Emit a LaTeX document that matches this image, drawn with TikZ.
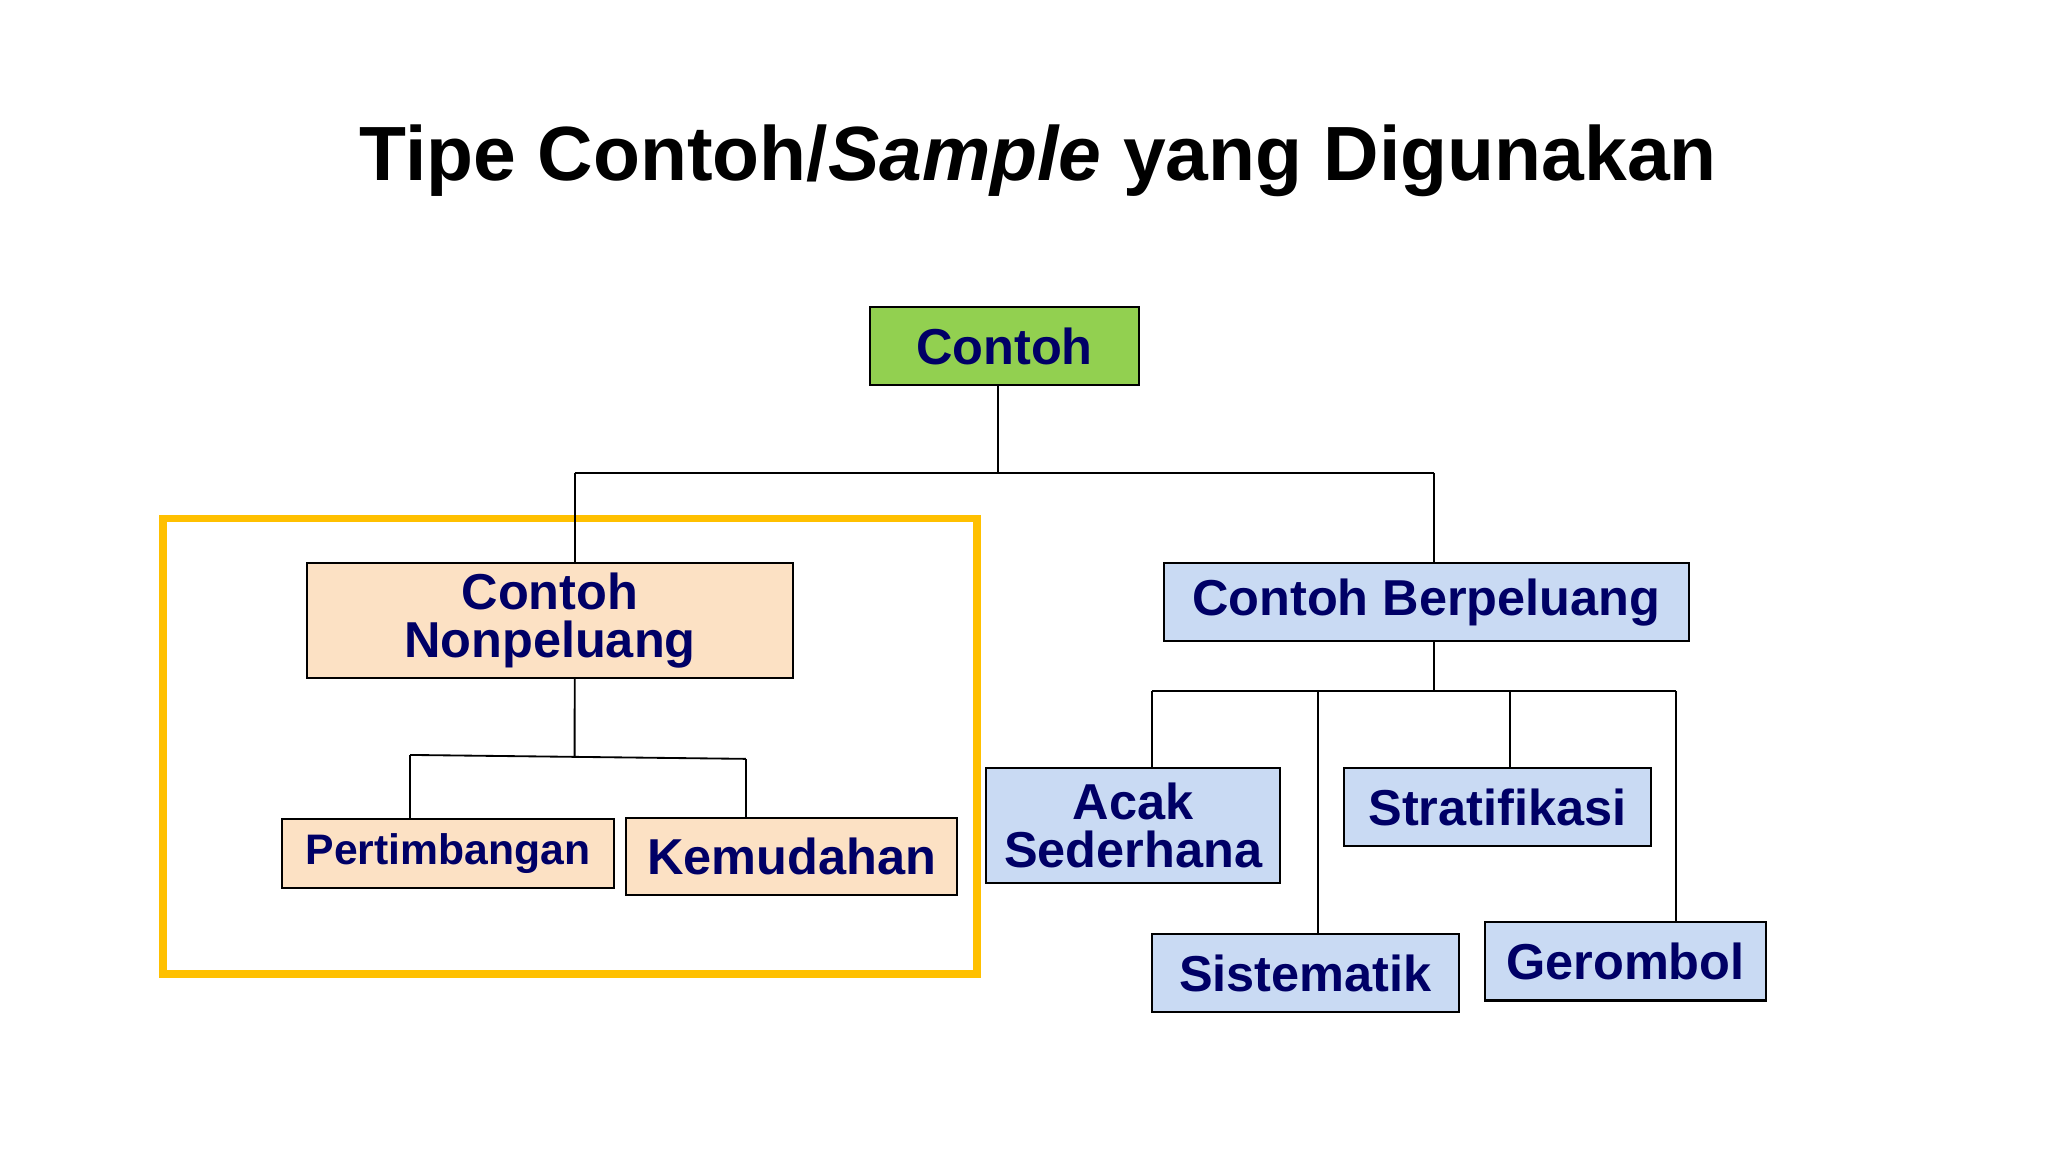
\documentclass[tikz,border=0pt]{standalone}
\usepackage{fontspec}
\setmainfont{Liberation Sans}
\usetikzlibrary{calc}
\definecolor{ChartGreen}{HTML}{92D050}
\definecolor{ChartBlue}{HTML}{C9DAF3}
\definecolor{ChartPeach}{HTML}{FCE1C4}
\definecolor{ChartNavy}{HTML}{000066}
\definecolor{FrameGold}{HTML}{FFC000}
\newcommand{\px}{0.02cm}

\begin{document}
\begin{tikzpicture}[x=0.02cm, y=-0.02cm,
  nbox/.style={draw, line width=0.9pt, inner sep=0pt, align=center, text=ChartNavy,
    font=\fontsize{22}{21}\selectfont\bfseries},
  link/.style={line width=0.8pt}]
  \fill[white] (0,0) rectangle (1568,882);
  \useasboundingbox (0,0) rectangle (1568,882);
  % title
  \node[anchor=base, font=\fontsize{33.5}{40}\selectfont\bfseries] (title) at (795,138)
    {Tipe Contoh/\textit{Sample} yang Digunakan};
  % highlight frame round the non-probability branch
  \draw[FrameGold, line width=3.4pt, fill=white] (125,397) rectangle (748,746);
  % boxes
  \node[nbox, fill=ChartGreen, minimum width=206*\px, minimum height=60*\px] (contoh) at (769,265) {Contoh};
  \node[nbox, fill=ChartPeach, minimum width=372*\px, minimum height=88*\px] (nonpel) at (421,475) {Contoh\\Nonpeluang};
  \node[nbox, fill=ChartPeach, minimum width=254*\px, minimum height=53*\px,
    font=\fontsize{18.6}{20}\selectfont\bfseries] (pertim) at (343,653.5) {Pertimbangan};
  \node[nbox, fill=ChartPeach, minimum width=254*\px, minimum height=59*\px] (kemud) at (606,655.5) {Kemudahan};
  \node[nbox, fill=ChartBlue, minimum width=402*\px, minimum height=60*\px] (berpel) at (1092,461) {Contoh Berpeluang};
  \node[nbox, fill=ChartBlue, minimum width=225*\px, minimum height=88*\px] (acak) at (867.5,632) {Acak\\Sederhana};
  \node[nbox, fill=ChartBlue, minimum width=235*\px, minimum height=60*\px] (strat) at (1146.5,618) {Stratifikasi};
  \node[nbox, fill=ChartBlue, minimum width=235*\px, minimum height=60*\px] (sistem) at (999.5,745) {Sistematik};
  \node[nbox, fill=ChartBlue, minimum width=215*\px, minimum height=60*\px] (gerom) at (1244.5,736) {Gerombol};
  % branch points
  \coordinate (npdrop) at (440,362);
  \coordinate (bpdrop) at (1098,362);
  \coordinate (ptdrop) at (314,578);
  \coordinate (kmdrop) at (571,581);
  \coordinate (acdrop) at (882,529);
  \coordinate (sidrop) at (1009,529);
  \coordinate (stdrop) at (1156,529);
  \coordinate (gedrop) at (1283,529);
  % top level
  \draw[link] ([xshift=-5*\px]contoh.south) -- ([xshift=-5*\px]contoh.south |- npdrop);
  \draw[link] (npdrop) -- (bpdrop);
  \draw[link] (npdrop) -- (npdrop |- nonpel.north);
  \draw[link] (bpdrop) -- (bpdrop |- berpel.north);
  % non-probability
  \draw[link] (npdrop |- nonpel.south) -- ($(ptdrop)!0.49!(kmdrop)$);
  \draw[link] (ptdrop) -- (kmdrop);
  \draw[link] (ptdrop) -- (ptdrop |- pertim.north);
  \draw[link] (kmdrop) -- ([yshift=-2*\px]kmdrop |- kemud.north);
  % probability
  \draw[link] (bpdrop |- berpel.south) -- (bpdrop |- acdrop);
  \draw[link] (acdrop) -- (gedrop);
  \draw[link] (acdrop) -- (acdrop |- acak.north);
  \draw[link] (sidrop) -- (sidrop |- sistem.north);
  \draw[link] (stdrop) -- (stdrop |- strat.north);
  \draw[link] (gedrop) -- (gedrop |- gerom.north);
\end{tikzpicture}
\end{document}
